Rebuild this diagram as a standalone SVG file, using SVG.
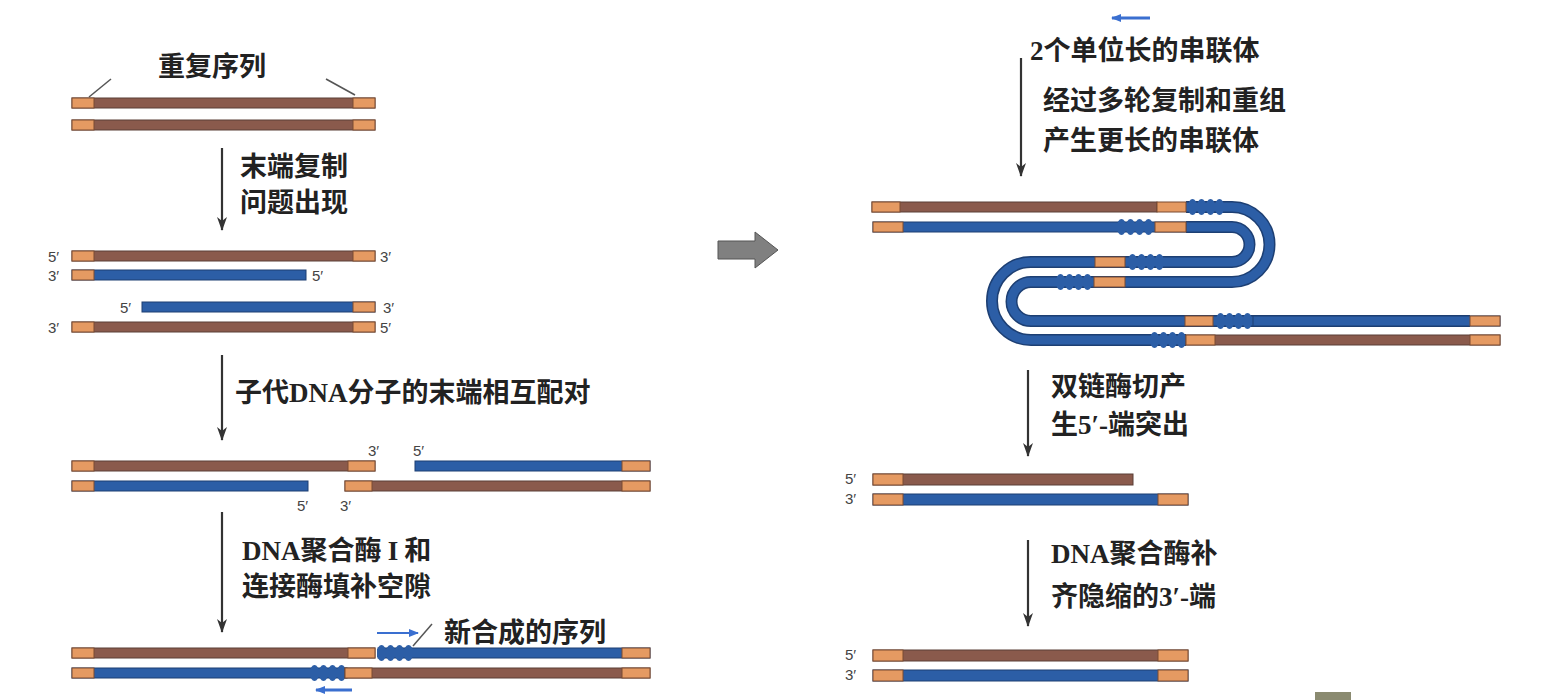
<svg xmlns="http://www.w3.org/2000/svg" width="1556" height="700" viewBox="0 0 1556 700">
<defs>
<marker id="ah" markerWidth="14" markerHeight="10" refX="13" refY="5" orient="auto" markerUnits="userSpaceOnUse" viewBox="0 0 14 10"><path d="M0 0 L14 5 L0 10 L4 5 Z" fill="#333"/></marker>
<marker id="bh" markerWidth="10" markerHeight="8" refX="9" refY="4" orient="auto" markerUnits="userSpaceOnUse"><path d="M0 0 L10 4 L0 8 Z" fill="#3a6fd0"/></marker>
<g id="wave"><ellipse cx="4.5" cy="0" rx="4.5" ry="8"/><ellipse cx="13.5" cy="0" rx="4.5" ry="8"/><ellipse cx="22.5" cy="0" rx="4.5" ry="8"/><ellipse cx="31.5" cy="0" rx="4.5" ry="8"/><rect x="0" y="-4" width="36" height="8"/></g>
</defs>
<style>
.br{fill:#8a5a4c;stroke:#5a3e36;stroke-width:1}
.or{fill:#e59a62;stroke:#7a4a30;stroke-width:1}
.bl{fill:#2c5ea6;stroke:#1d3f73;stroke-width:1}
.wv{fill:#2c5ea6;stroke:none}
.lp{fill:none;stroke:#1d3f73;stroke-width:12}
.lpi{fill:none;stroke:#2c5ea6;stroke-width:9}
.ar{stroke:#333;stroke-width:2.2;fill:none;marker-end:url(#ah)}
.t{font-family:"Noto Sans CJK SC","Noto Sans",sans-serif;font-size:27px;font-weight:700;fill:#222}
.p{font-family:"Liberation Sans",sans-serif;font-size:15px;fill:#444}
.d{font-family:"Liberation Serif",serif;font-weight:700}
.thin{stroke:#555;stroke-width:1.5}
</style>

<g id="connectors">
<line class="ar" x1="222" y1="148" x2="222" y2="230"/>
<line class="ar" x1="222" y1="355" x2="222" y2="440"/>
<line class="ar" x1="222" y1="512" x2="222" y2="632"/>
<line class="ar" x1="1021" y1="58" x2="1021" y2="176"/>
<line class="ar" x1="1028" y1="370" x2="1028" y2="456"/>
<line class="ar" x1="1028" y1="540" x2="1028" y2="626"/>
<polygon points="718,241 755,241 755,232 778,250 755,268 755,259 718,259" fill="#808080" stroke="#555" stroke-width="1"/>
</g>

<g id="left-labels">
<text class="t" x="158" y="76">重复序列</text>
<line class="thin" x1="89" y1="97" x2="111" y2="79"/>
<line class="thin" x1="326" y1="79" x2="355" y2="95"/>
<text class="t" x="240" y="176">末端复制</text>
<text class="t" x="240" y="212">问题出现</text>
<text class="t" x="235" y="402">子代<tspan class="d">DNA</tspan>分子的末端相互配对</text>
<text class="t" x="242" y="560"><tspan class="d">DNA</tspan>聚合酶 <tspan class="d">I</tspan> 和</text>
<text class="t" x="242" y="596">连接酶填补空隙</text>
<text class="t" x="444" y="642">新合成的序列</text>
<line class="thin" x1="413" y1="646" x2="432" y2="624"/>
<line x1="377" y1="633" x2="418" y2="633" stroke="#3a6fd0" stroke-width="2" marker-end="url(#bh)"/>
<line x1="352" y1="690" x2="316" y2="690" stroke="#3a6fd0" stroke-width="3" marker-end="url(#bh)"/>
</g>

<g id="step0">
<rect class="br" x="72" y="98" width="303" height="10"/><rect class="or" x="72" y="98" width="22" height="10"/><rect class="or" x="353" y="98" width="22" height="10"/>
<rect class="br" x="72" y="120" width="303" height="10"/><rect class="or" x="72" y="120" width="22" height="10"/><rect class="or" x="353" y="120" width="22" height="10"/>
</g>

<g id="step1">
<text class="p" x="48" y="262">5′</text><text class="p" x="380" y="262">3′</text>
<rect class="br" x="72" y="251" width="303" height="10"/><rect class="or" x="72" y="251" width="22" height="10"/><rect class="or" x="353" y="251" width="22" height="10"/>
<text class="p" x="48" y="281">3′</text><text class="p" x="312" y="281">5′</text>
<rect class="bl" x="72" y="270" width="234" height="10"/><rect class="or" x="72" y="270" width="22" height="10"/>
<text class="p" x="120" y="313">5′</text><text class="p" x="383" y="313">3′</text>
<rect class="bl" x="142" y="302" width="233" height="10"/><rect class="or" x="353" y="302" width="22" height="10"/>
<text class="p" x="48" y="333">3′</text><text class="p" x="380" y="333">5′</text>
<rect class="br" x="72" y="322" width="303" height="10"/><rect class="or" x="72" y="322" width="22" height="10"/><rect class="or" x="353" y="322" width="22" height="10"/>
</g>

<g id="step2">
<text class="p" x="368" y="456">3′</text><text class="p" x="413" y="456">5′</text>
<rect class="br" x="72" y="461" width="303" height="10"/><rect class="or" x="72" y="461" width="22" height="10"/><rect class="or" x="348" y="461" width="27" height="10"/>
<rect class="bl" x="415" y="461" width="235" height="10"/><rect class="or" x="622" y="461" width="28" height="10"/>
<rect class="bl" x="72" y="481" width="236" height="10"/><rect class="or" x="72" y="481" width="22" height="10"/>
<rect class="br" x="345" y="481" width="305" height="10"/><rect class="or" x="345" y="481" width="27" height="10"/><rect class="or" x="622" y="481" width="28" height="10"/>
<text class="p" x="297" y="511">5′</text><text class="p" x="340" y="511">3′</text>
</g>

<g id="step3">
<rect class="br" x="72" y="648" width="303" height="10"/><rect class="or" x="72" y="648" width="22" height="10"/><rect class="or" x="348" y="648" width="27" height="10"/>
<rect class="bl" x="378" y="648" width="272" height="10"/><rect class="or" x="622" y="648" width="28" height="10"/>
<use href="#wave" class="wv" x="377" y="653"/>
<rect class="bl" x="72" y="668" width="275" height="10"/><rect class="or" x="72" y="668" width="22" height="10"/>
<use href="#wave" class="wv" x="310" y="673"/>
<rect class="br" x="345" y="668" width="305" height="10"/><rect class="or" x="345" y="668" width="27" height="10"/><rect class="or" x="622" y="668" width="28" height="10"/>
</g>

<g id="right-labels">
<line x1="1150" y1="18" x2="1112" y2="18" stroke="#3a6fd0" stroke-width="3" marker-end="url(#bh)"/>
<text class="t" x="1030" y="60"><tspan class="d">2</tspan>个单位长的串联体</text>
<text class="t" x="1043" y="110">经过多轮复制和重组</text>
<text class="t" x="1043" y="150">产生更长的串联体</text>
<text class="t" x="1051" y="396">双链酶切产</text>
<text class="t" x="1051" y="434">生<tspan class="d">5′-</tspan>端突出</text>
<text class="t" x="1051" y="563"><tspan class="d">DNA</tspan>聚合酶补</text>
<text class="t" x="1051" y="606">齐隐缩的<tspan class="d">3′-</tspan>端</text>
</g>

<g id="concatemer">
<path class="lp" d="M1186 207 H1232 A37.5 37.5 0 0 1 1232 282 H1031 A19.5 19.5 0 0 0 1031 321 H1470"/>
<path class="lp" d="M1186 227 H1232 A17.5 17.5 0 0 1 1232 262 H1031 A39 39 0 0 0 1031 340 H1186"/>
<path class="lpi" d="M1186 207 H1232 A37.5 37.5 0 0 1 1232 282 H1031 A19.5 19.5 0 0 0 1031 321 H1470"/>
<path class="lpi" d="M1186 227 H1232 A17.5 17.5 0 0 1 1232 262 H1031 A39 39 0 0 0 1031 340 H1186"/>
<rect class="br" x="872" y="202" width="285" height="10"/><rect class="or" x="872" y="202" width="28" height="10"/><rect class="or" x="1157" y="202" width="29" height="10"/>
<use href="#wave" class="wv" x="1188" y="207"/>
<rect class="bl" x="873" y="222" width="313" height="10"/><rect class="or" x="873" y="222" width="30" height="10"/><rect class="or" x="1155" y="222" width="31" height="10"/>
<use href="#wave" class="wv" x="1117" y="227"/>
<rect class="or" x="1095" y="257" width="30" height="10"/>
<use href="#wave" class="wv" x="1128" y="262"/>
<rect class="or" x="1094" y="277" width="31" height="10"/>
<use href="#wave" class="wv" x="1056" y="282"/>
<rect class="or" x="1185" y="316" width="28" height="10"/>
<rect class="bl" x="1253" y="316" width="247" height="10"/><rect class="or" x="1470" y="316" width="30" height="10"/>
<use href="#wave" class="wv" x="1216" y="321"/>
<use href="#wave" class="wv" x="1150" y="340"/>
<rect class="br" x="1186" y="335" width="314" height="10"/><rect class="or" x="1186" y="335" width="29" height="10"/><rect class="or" x="1470" y="335" width="30" height="10"/>
</g>

<g id="right-step1">
<text class="p" x="845" y="484">5′</text>
<rect class="br" x="873" y="474" width="260" height="11"/><rect class="or" x="873" y="474" width="30" height="11"/>
<text class="p" x="845" y="504">3′</text>
<rect class="bl" x="873" y="494" width="315" height="11"/><rect class="or" x="873" y="494" width="30" height="11"/><rect class="or" x="1158" y="494" width="30" height="11"/>
</g>

<g id="right-step2">
<text class="p" x="845" y="660">5′</text>
<rect class="br" x="873" y="650" width="315" height="11"/><rect class="or" x="873" y="650" width="30" height="11"/><rect class="or" x="1158" y="650" width="30" height="11"/>
<text class="p" x="845" y="680">3′</text>
<rect class="bl" x="873" y="670" width="315" height="11"/><rect class="or" x="873" y="670" width="30" height="11"/><rect class="or" x="1158" y="670" width="30" height="11"/>
<rect x="1315" y="692" width="36" height="8" fill="#8a8a70"/>
</g>
</svg>
